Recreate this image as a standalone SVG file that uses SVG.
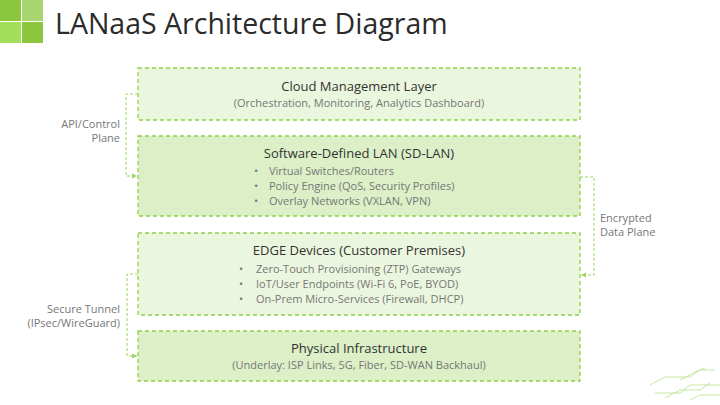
<svg xmlns="http://www.w3.org/2000/svg" width="720" height="405" viewBox="0 0 720 405">
<defs>
<style>
text{font-family:"Open Sans","Liberation Sans",sans-serif}
.box{stroke:#8ed14a;stroke-width:1.3;stroke-dasharray:4 3}
.h{font-size:13px;fill:#333;text-anchor:middle}
.s{font-size:11px;fill:#777;text-anchor:middle}
.b{font-size:11px;fill:#777}
.lbl{font-size:11px;fill:#777}
.con{fill:none;stroke:#9ad65c;stroke-width:1;stroke-dasharray:3 2}
.deco{fill:none;stroke:#b6e08a;stroke-width:0.8}
</style>
<marker id="ar" markerWidth="6" markerHeight="6" refX="5" refY="3" orient="auto"><path d="M0,0.5 L5,3 L0,5.5z" fill="#9ad65c"/></marker>
</defs>
<rect width="720" height="405" fill="#fff"/>
<rect x="0" y="0" width="21" height="21" fill="#8cc63f"/>
<rect x="22" y="0" width="21" height="21" fill="#a9d56f"/>
<rect x="0" y="22" width="21" height="21" fill="#a3df58"/>
<rect x="22" y="22" width="21" height="21" fill="#8cc63f"/>
<text x="55" y="34" style="font-size:28.5px;fill:#2b2b2b">LANaaS Architecture Diagram</text>

<g id="cloud"><rect class="box" x="138" y="68" width="442" height="52" fill="#ebf6de"/>
<text class="h" x="359" y="91">Cloud Management Layer</text>
<text class="s" x="359" y="107">(Orchestration, Monitoring, Analytics Dashboard)</text></g>

<g id="sdlan"><rect class="box" x="138" y="136" width="442" height="80" fill="#dcefc7"/>
<text class="h" x="359" y="158">Software-Defined LAN (SD-LAN)</text>
<text class="b" x="254" y="175">•<tspan x="269">Virtual Switches/Routers</tspan></text>
<text class="b" x="254" y="190">•<tspan x="269">Policy Engine (QoS, Security Profiles)</tspan></text>
<text class="b" x="254" y="205">•<tspan x="269">Overlay Networks (VXLAN, VPN)</tspan></text></g>

<g id="edge"><rect class="box" x="138" y="233" width="442" height="82" fill="#ebf6de"/>
<text class="h" x="359" y="255">EDGE Devices (Customer Premises)</text>
<text class="b" x="239" y="273">•<tspan x="256">Zero-Touch Provisioning (ZTP) Gateways</tspan></text>
<text class="b" x="239" y="288">•<tspan x="256">IoT/User Endpoints (Wi-Fi 6, PoE, BYOD)</tspan></text>
<text class="b" x="239" y="303">•<tspan x="256">On-Prem Micro-Services (Firewall, DHCP)</tspan></text></g>

<g id="phys"><rect class="box" x="138" y="331" width="442" height="50" fill="#dcefc7"/>
<text class="h" x="359" y="353">Physical Infrastructure</text>
<text class="s" x="359" y="369">(Underlay: ISP Links, 5G, Fiber, SD-WAN Backhaul)</text></g>

<g id="connectors">
<path class="con" d="M138,94 H126 V176 H137" marker-end="url(#ar)"/>
<path class="con" d="M580,177 H594 V275 H581" marker-end="url(#ar)"/>
<path class="con" d="M138,274 H127 V356 H137" marker-end="url(#ar)"/>
</g>
<g id="labels">
<text class="lbl" x="120" y="128" text-anchor="end">API/Control</text>
<text class="lbl" x="120" y="142" text-anchor="end">Plane</text>
<text class="lbl" x="600" y="222">Encrypted</text>
<text class="lbl" x="600" y="236">Data Plane</text>
<text class="lbl" x="120" y="313" text-anchor="end">Secure Tunnel</text>
<text class="lbl" x="120" y="327" text-anchor="end">(IPsec/WireGuard)</text>
</g>
<g id="decor">
<path class="deco" d="M650,385 L665,377 H690 L700,370 H715 M655,393 H680 L690,385 H720 M665,398 L680,390 H700 L710,383 M690,400 L700,395 H720 M680,380 L695,372 L705,368"/>
</g>
</svg>
